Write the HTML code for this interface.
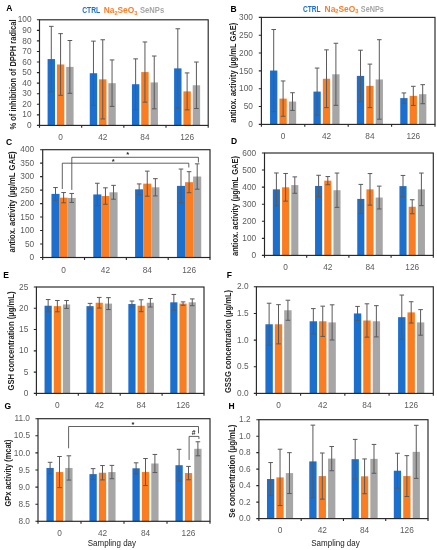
<!DOCTYPE html>
<html><head><meta charset="utf-8"><title>Figure</title>
<style>
html,body{margin:0;padding:0;background:#fff;}
body{width:437px;height:550px;overflow:hidden;}
svg{display:block;}
.t{font-family:'Liberation Sans', Arial, sans-serif;font-size:8.3px;fill:#5c5c5c;}
.yt{font-family:'Liberation Sans', Arial, sans-serif;font-size:8.4px;fill:#262626;font-weight:bold;}
.let{font-family:'Liberation Sans', Arial, sans-serif;font-size:8.5px;fill:#000;font-weight:bold;}
.lg{font-family:'Liberation Sans', Arial, sans-serif;font-size:8.4px;font-weight:bold;}
.xt{font-family:'Liberation Sans', Arial, sans-serif;font-size:8.6px;fill:#1a1a1a;}
.st{font-family:'Liberation Sans', Arial, sans-serif;font-size:7.6px;fill:#222;font-weight:bold;}
</style></head><body>
<svg width="437" height="550" viewBox="0 0 437 550">
<rect width="437" height="550" fill="#fff"/>
<rect x="47.59" y="59.08" width="7.40" height="66.32" fill="#1c6fcd"/>
<rect x="56.89" y="64.47" width="7.40" height="60.93" fill="#fb7d22"/>
<rect x="66.19" y="66.90" width="7.40" height="58.50" fill="#a6a6a6"/>
<rect x="89.76" y="73.23" width="7.40" height="52.17" fill="#1c6fcd"/>
<rect x="99.06" y="79.36" width="7.40" height="46.04" fill="#fb7d22"/>
<rect x="108.36" y="83.16" width="7.40" height="42.24" fill="#a6a6a6"/>
<rect x="131.94" y="84.22" width="7.40" height="41.18" fill="#1c6fcd"/>
<rect x="141.24" y="72.07" width="7.40" height="53.33" fill="#fb7d22"/>
<rect x="150.54" y="82.42" width="7.40" height="42.98" fill="#a6a6a6"/>
<rect x="174.11" y="68.38" width="7.40" height="57.02" fill="#1c6fcd"/>
<rect x="183.41" y="91.40" width="7.40" height="34.00" fill="#fb7d22"/>
<rect x="192.71" y="85.27" width="7.40" height="40.13" fill="#a6a6a6"/>
<path d="M51.29 26.35V91.82M48.99 26.35H53.59M48.99 91.82H53.59" stroke="#5a5a5a" stroke-width="1.0" fill="none"/>
<path d="M60.59 33.63V95.30M58.29 33.63H62.89M58.29 95.30H62.89" stroke="#5a5a5a" stroke-width="1.0" fill="none"/>
<path d="M69.89 40.50V93.30M67.59 40.50H72.19M67.59 93.30H72.19" stroke="#5a5a5a" stroke-width="1.0" fill="none"/>
<path d="M93.46 41.13V105.34M91.16 41.13H95.76M91.16 105.34H95.76" stroke="#5a5a5a" stroke-width="1.0" fill="none"/>
<path d="M102.76 39.76V118.96M100.46 39.76H105.06M100.46 118.96H105.06" stroke="#5a5a5a" stroke-width="1.0" fill="none"/>
<path d="M112.06 59.93V106.39M109.76 59.93H114.36M109.76 106.39H114.36" stroke="#5a5a5a" stroke-width="1.0" fill="none"/>
<path d="M135.64 58.87V109.56M133.34 58.87H137.94M133.34 109.56H137.94" stroke="#5a5a5a" stroke-width="1.0" fill="none"/>
<path d="M144.94 41.98V102.17M142.64 41.98H147.24M142.64 102.17H147.24" stroke="#5a5a5a" stroke-width="1.0" fill="none"/>
<path d="M154.24 56.02V108.82M151.94 56.02H156.54M151.94 108.82H156.54" stroke="#5a5a5a" stroke-width="1.0" fill="none"/>
<path d="M177.81 28.78V107.98M175.51 28.78H180.11M175.51 107.98H180.11" stroke="#5a5a5a" stroke-width="1.0" fill="none"/>
<path d="M187.11 72.92V109.88M184.81 72.92H189.41M184.81 109.88H189.41" stroke="#5a5a5a" stroke-width="1.0" fill="none"/>
<path d="M196.41 62.04V108.50M194.11 62.04H198.71M194.11 108.50H198.71" stroke="#5a5a5a" stroke-width="1.0" fill="none"/>
<rect x="39.50" y="19.80" width="168.70" height="105.60" fill="none" stroke="#262626" stroke-width="1.15"/>
<path d="M36.90 19.80H39.50M36.90 125.40H39.50M36.90 114.84H39.50M36.90 104.28H39.50M36.90 93.72H39.50M36.90 83.16H39.50M36.90 72.60H39.50M36.90 62.04H39.50M36.90 51.48H39.50M36.90 40.92H39.50M36.90 30.36H39.50M36.90 19.80H39.50M39.50 125.40V127.80M81.67 125.40V127.80M123.85 125.40V127.80M166.02 125.40V127.80M208.20 125.40V127.80" stroke="#262626" stroke-width="1.1" fill="none"/>
<text x="31.50" y="128.00" text-anchor="end" class="t">0</text>
<text x="31.50" y="117.44" text-anchor="end" class="t">10</text>
<text x="31.50" y="106.88" text-anchor="end" class="t">20</text>
<text x="31.50" y="96.32" text-anchor="end" class="t">30</text>
<text x="31.50" y="85.76" text-anchor="end" class="t">40</text>
<text x="31.50" y="75.20" text-anchor="end" class="t">50</text>
<text x="31.50" y="64.64" text-anchor="end" class="t">60</text>
<text x="31.50" y="54.08" text-anchor="end" class="t">70</text>
<text x="31.50" y="43.52" text-anchor="end" class="t">80</text>
<text x="31.50" y="32.96" text-anchor="end" class="t">90</text>
<text x="31.50" y="22.40" text-anchor="end" class="t">100</text>
<text x="60.59" y="139.60" text-anchor="middle" class="t">0</text>
<text x="102.76" y="139.60" text-anchor="middle" class="t">42</text>
<text x="144.94" y="139.60" text-anchor="middle" class="t">84</text>
<text x="187.11" y="139.60" text-anchor="middle" class="t">126</text>
<text transform="translate(12.60,74.50) rotate(-90)" x="0" y="3" text-anchor="middle" class="yt" textLength="110" lengthAdjust="spacingAndGlyphs">% of inhibition of DPPH radical</text>
<text x="6.20" y="11.40" class="let">A</text>
<rect x="270.05" y="70.54" width="7.30" height="53.86" fill="#1c6fcd"/>
<rect x="279.45" y="98.61" width="7.30" height="25.79" fill="#fb7d22"/>
<rect x="288.85" y="101.57" width="7.30" height="22.83" fill="#a6a6a6"/>
<rect x="313.45" y="91.59" width="7.30" height="32.81" fill="#1c6fcd"/>
<rect x="322.85" y="78.75" width="7.30" height="45.65" fill="#fb7d22"/>
<rect x="332.25" y="74.29" width="7.30" height="50.11" fill="#a6a6a6"/>
<rect x="356.85" y="75.89" width="7.30" height="48.51" fill="#1c6fcd"/>
<rect x="366.25" y="85.88" width="7.30" height="38.52" fill="#fb7d22"/>
<rect x="375.65" y="79.46" width="7.30" height="44.94" fill="#a6a6a6"/>
<rect x="400.25" y="98.11" width="7.30" height="26.29" fill="#1c6fcd"/>
<rect x="409.65" y="95.87" width="7.30" height="28.53" fill="#fb7d22"/>
<rect x="419.05" y="94.19" width="7.30" height="30.21" fill="#a6a6a6"/>
<path d="M273.70 29.53V111.56M271.40 29.53H276.00M271.40 111.56H276.00" stroke="#5a5a5a" stroke-width="1.0" fill="none"/>
<path d="M283.10 80.96V116.27M280.80 80.96H285.40M280.80 116.27H285.40" stroke="#5a5a5a" stroke-width="1.0" fill="none"/>
<path d="M292.50 92.73V110.42M290.20 92.73H294.80M290.20 110.42H294.80" stroke="#5a5a5a" stroke-width="1.0" fill="none"/>
<path d="M317.10 68.05V115.13M314.80 68.05H319.40M314.80 115.13H319.40" stroke="#5a5a5a" stroke-width="1.0" fill="none"/>
<path d="M326.50 49.86V107.64M324.20 49.86H328.80M324.20 107.64H328.80" stroke="#5a5a5a" stroke-width="1.0" fill="none"/>
<path d="M335.90 43.26V105.32M333.60 43.26H338.20M333.60 105.32H338.20" stroke="#5a5a5a" stroke-width="1.0" fill="none"/>
<path d="M360.50 50.21V101.57M358.20 50.21H362.80M358.20 101.57H362.80" stroke="#5a5a5a" stroke-width="1.0" fill="none"/>
<path d="M369.90 64.12V107.64M367.60 64.12H372.20M367.60 107.64H372.20" stroke="#5a5a5a" stroke-width="1.0" fill="none"/>
<path d="M379.30 39.69V119.23M377.00 39.69H381.60M377.00 119.23H381.60" stroke="#5a5a5a" stroke-width="1.0" fill="none"/>
<path d="M403.90 92.94V103.29M401.60 92.94H406.20M401.60 103.29H406.20" stroke="#5a5a5a" stroke-width="1.0" fill="none"/>
<path d="M413.30 86.31V105.43M411.00 86.31H415.60M411.00 105.43H415.60" stroke="#5a5a5a" stroke-width="1.0" fill="none"/>
<path d="M422.70 84.67V103.71M420.40 84.67H425.00M420.40 103.71H425.00" stroke="#5a5a5a" stroke-width="1.0" fill="none"/>
<rect x="261.40" y="17.40" width="173.60" height="107.00" fill="none" stroke="#262626" stroke-width="1.15"/>
<path d="M258.80 17.40H261.40M258.80 124.40H261.40M258.80 106.57H261.40M258.80 88.73H261.40M258.80 70.90H261.40M258.80 53.07H261.40M258.80 35.23H261.40M258.80 17.40H261.40M261.40 124.40V126.80M304.80 124.40V126.80M348.20 124.40V126.80M391.60 124.40V126.80M435.00 124.40V126.80" stroke="#262626" stroke-width="1.1" fill="none"/>
<text x="252.90" y="127.00" text-anchor="end" class="t">0</text>
<text x="252.90" y="109.17" text-anchor="end" class="t">50</text>
<text x="252.90" y="91.33" text-anchor="end" class="t">100</text>
<text x="252.90" y="73.50" text-anchor="end" class="t">150</text>
<text x="252.90" y="55.67" text-anchor="end" class="t">200</text>
<text x="252.90" y="37.83" text-anchor="end" class="t">250</text>
<text x="252.90" y="20.00" text-anchor="end" class="t">300</text>
<text x="283.10" y="138.60" text-anchor="middle" class="t">0</text>
<text x="326.50" y="138.60" text-anchor="middle" class="t">42</text>
<text x="369.90" y="138.60" text-anchor="middle" class="t">84</text>
<text x="413.30" y="138.60" text-anchor="middle" class="t">126</text>
<text transform="translate(233.30,72.70) rotate(-90)" x="0" y="3" text-anchor="middle" class="yt" textLength="100" lengthAdjust="spacingAndGlyphs">antiox. activity (µg/mL GAE)</text>
<text x="230.50" y="11.50" class="let">B</text>
<rect x="51.46" y="193.90" width="8.10" height="63.60" fill="#1c6fcd"/>
<rect x="59.56" y="197.67" width="8.10" height="59.83" fill="#fb7d22"/>
<rect x="67.66" y="197.94" width="8.10" height="59.56" fill="#a6a6a6"/>
<rect x="93.29" y="194.44" width="8.10" height="63.06" fill="#1c6fcd"/>
<rect x="101.39" y="196.05" width="8.10" height="61.45" fill="#fb7d22"/>
<rect x="109.49" y="192.28" width="8.10" height="65.22" fill="#a6a6a6"/>
<rect x="135.11" y="189.32" width="8.10" height="68.18" fill="#1c6fcd"/>
<rect x="143.21" y="183.66" width="8.10" height="73.84" fill="#fb7d22"/>
<rect x="151.31" y="187.30" width="8.10" height="70.20" fill="#a6a6a6"/>
<rect x="176.94" y="185.89" width="8.10" height="71.61" fill="#1c6fcd"/>
<rect x="185.04" y="182.20" width="8.10" height="75.30" fill="#fb7d22"/>
<rect x="193.14" y="176.52" width="8.10" height="80.98" fill="#a6a6a6"/>
<path d="M55.51 187.56V200.23M53.21 187.56H57.81M53.21 200.23H57.81" stroke="#5a5a5a" stroke-width="1.0" fill="none"/>
<path d="M63.61 192.55V202.79M61.31 192.55H65.91M61.31 202.79H65.91" stroke="#5a5a5a" stroke-width="1.0" fill="none"/>
<path d="M71.71 193.44V202.44M69.41 193.44H74.01M69.41 202.44H74.01" stroke="#5a5a5a" stroke-width="1.0" fill="none"/>
<path d="M97.34 183.25V205.62M95.04 183.25H99.64M95.04 205.62H99.64" stroke="#5a5a5a" stroke-width="1.0" fill="none"/>
<path d="M105.44 187.83V204.27M103.14 187.83H107.74M103.14 204.27H107.74" stroke="#5a5a5a" stroke-width="1.0" fill="none"/>
<path d="M113.54 185.35V199.21M111.24 185.35H115.84M111.24 199.21H115.84" stroke="#5a5a5a" stroke-width="1.0" fill="none"/>
<path d="M139.16 183.93V194.71M136.86 183.93H141.46M136.86 194.71H141.46" stroke="#5a5a5a" stroke-width="1.0" fill="none"/>
<path d="M147.26 171.13V196.19M144.96 171.13H149.56M144.96 196.19H149.56" stroke="#5a5a5a" stroke-width="1.0" fill="none"/>
<path d="M155.36 178.67V195.92M153.06 178.67H157.66M153.06 195.92H157.66" stroke="#5a5a5a" stroke-width="1.0" fill="none"/>
<path d="M180.99 169.05V202.74M178.69 169.05H183.29M178.69 202.74H183.29" stroke="#5a5a5a" stroke-width="1.0" fill="none"/>
<path d="M189.09 171.69V192.71M186.79 171.69H191.39M186.79 192.71H191.39" stroke="#5a5a5a" stroke-width="1.0" fill="none"/>
<path d="M197.19 163.85V189.18M194.89 163.85H199.49M194.89 189.18H199.49" stroke="#5a5a5a" stroke-width="1.0" fill="none"/>
<rect x="42.70" y="149.70" width="167.30" height="107.80" fill="none" stroke="#262626" stroke-width="1.15"/>
<path d="M40.10 149.70H42.70M40.10 257.50H42.70M40.10 244.03H42.70M40.10 230.55H42.70M40.10 217.07H42.70M40.10 203.60H42.70M40.10 190.12H42.70M40.10 176.65H42.70M40.10 163.17H42.70M40.10 149.70H42.70M42.70 257.50V259.90M84.53 257.50V259.90M126.35 257.50V259.90M168.18 257.50V259.90M210.00 257.50V259.90" stroke="#262626" stroke-width="1.1" fill="none"/>
<text x="34.20" y="260.10" text-anchor="end" class="t">0</text>
<text x="34.20" y="246.62" text-anchor="end" class="t">50</text>
<text x="34.20" y="233.15" text-anchor="end" class="t">100</text>
<text x="34.20" y="219.67" text-anchor="end" class="t">150</text>
<text x="34.20" y="206.20" text-anchor="end" class="t">200</text>
<text x="34.20" y="192.72" text-anchor="end" class="t">250</text>
<text x="34.20" y="179.25" text-anchor="end" class="t">300</text>
<text x="34.20" y="165.77" text-anchor="end" class="t">350</text>
<text x="34.20" y="152.30" text-anchor="end" class="t">400</text>
<text x="63.61" y="273.20" text-anchor="middle" class="t">0</text>
<text x="105.44" y="273.20" text-anchor="middle" class="t">42</text>
<text x="147.26" y="273.20" text-anchor="middle" class="t">84</text>
<text x="189.09" y="273.20" text-anchor="middle" class="t">126</text>
<text transform="translate(12.20,202.00) rotate(-90)" x="0" y="3" text-anchor="middle" class="yt" textLength="101" lengthAdjust="spacingAndGlyphs">antiox. activity (µg/mL GAE)</text>
<text x="6.10" y="144.60" class="let">C</text>
<rect x="272.85" y="189.35" width="7.10" height="66.05" fill="#1c6fcd"/>
<rect x="282.05" y="187.30" width="7.10" height="68.10" fill="#fb7d22"/>
<rect x="291.25" y="185.09" width="7.10" height="70.31" fill="#a6a6a6"/>
<rect x="315.05" y="185.94" width="7.10" height="69.46" fill="#1c6fcd"/>
<rect x="324.25" y="180.65" width="7.10" height="74.75" fill="#fb7d22"/>
<rect x="333.45" y="190.21" width="7.10" height="65.19" fill="#a6a6a6"/>
<rect x="357.25" y="198.91" width="7.10" height="56.49" fill="#1c6fcd"/>
<rect x="366.45" y="189.35" width="7.10" height="66.05" fill="#fb7d22"/>
<rect x="375.65" y="197.54" width="7.10" height="57.86" fill="#a6a6a6"/>
<rect x="399.45" y="186.11" width="7.10" height="69.29" fill="#1c6fcd"/>
<rect x="408.65" y="206.76" width="7.10" height="48.64" fill="#fb7d22"/>
<rect x="417.85" y="189.35" width="7.10" height="66.05" fill="#a6a6a6"/>
<path d="M276.40 172.97V205.74M274.10 172.97H278.70M274.10 205.74H278.70" stroke="#5a5a5a" stroke-width="1.0" fill="none"/>
<path d="M285.60 173.48V201.13M283.30 173.48H287.90M283.30 201.13H287.90" stroke="#5a5a5a" stroke-width="1.0" fill="none"/>
<path d="M294.80 176.89V193.28M292.50 176.89H297.10M292.50 193.28H297.10" stroke="#5a5a5a" stroke-width="1.0" fill="none"/>
<path d="M318.60 175.27V196.61M316.30 175.27H320.90M316.30 196.61H320.90" stroke="#5a5a5a" stroke-width="1.0" fill="none"/>
<path d="M327.80 176.55V184.74M325.50 176.55H330.10M325.50 184.74H330.10" stroke="#5a5a5a" stroke-width="1.0" fill="none"/>
<path d="M337.00 173.05V207.36M334.70 173.05H339.30M334.70 207.36H339.30" stroke="#5a5a5a" stroke-width="1.0" fill="none"/>
<path d="M360.80 184.40V213.42M358.50 184.40H363.10M358.50 213.42H363.10" stroke="#5a5a5a" stroke-width="1.0" fill="none"/>
<path d="M370.00 173.57V205.14M367.70 173.57H372.30M367.70 205.14H372.30" stroke="#5a5a5a" stroke-width="1.0" fill="none"/>
<path d="M379.20 186.11V208.98M376.90 186.11H381.50M376.90 208.98H381.50" stroke="#5a5a5a" stroke-width="1.0" fill="none"/>
<path d="M403.00 175.44V196.78M400.70 175.44H405.30M400.70 196.78H405.30" stroke="#5a5a5a" stroke-width="1.0" fill="none"/>
<path d="M412.20 199.76V213.76M409.90 199.76H414.50M409.90 213.76H414.50" stroke="#5a5a5a" stroke-width="1.0" fill="none"/>
<path d="M421.40 173.05V205.65M419.10 173.05H423.70M419.10 205.65H423.70" stroke="#5a5a5a" stroke-width="1.0" fill="none"/>
<rect x="264.50" y="153.00" width="168.80" height="102.40" fill="none" stroke="#262626" stroke-width="1.15"/>
<path d="M261.90 153.00H264.50M261.90 255.40H264.50M261.90 238.33H264.50M261.90 221.27H264.50M261.90 204.20H264.50M261.90 187.13H264.50M261.90 170.07H264.50M261.90 153.00H264.50M264.50 255.40V257.80M306.70 255.40V257.80M348.90 255.40V257.80M391.10 255.40V257.80M433.30 255.40V257.80" stroke="#262626" stroke-width="1.1" fill="none"/>
<text x="256.20" y="258.00" text-anchor="end" class="t">0</text>
<text x="256.20" y="240.93" text-anchor="end" class="t">100</text>
<text x="256.20" y="223.87" text-anchor="end" class="t">200</text>
<text x="256.20" y="206.80" text-anchor="end" class="t">300</text>
<text x="256.20" y="189.73" text-anchor="end" class="t">400</text>
<text x="256.20" y="172.67" text-anchor="end" class="t">500</text>
<text x="256.20" y="155.60" text-anchor="end" class="t">600</text>
<text x="285.60" y="270.20" text-anchor="middle" class="t">0</text>
<text x="327.80" y="270.20" text-anchor="middle" class="t">42</text>
<text x="370.00" y="270.20" text-anchor="middle" class="t">84</text>
<text x="412.20" y="270.20" text-anchor="middle" class="t">126</text>
<text transform="translate(234.60,206.00) rotate(-90)" x="0" y="3" text-anchor="middle" class="yt" textLength="100" lengthAdjust="spacingAndGlyphs">antiox. activity (µg/mL GAE)</text>
<text x="230.90" y="144.40" class="let">D</text>
<rect x="44.55" y="305.73" width="7.20" height="87.67" fill="#1c6fcd"/>
<rect x="53.75" y="306.15" width="7.20" height="87.25" fill="#fb7d22"/>
<rect x="62.95" y="304.45" width="7.20" height="88.95" fill="#a6a6a6"/>
<rect x="86.45" y="306.15" width="7.20" height="87.25" fill="#1c6fcd"/>
<rect x="95.65" y="302.75" width="7.20" height="90.65" fill="#fb7d22"/>
<rect x="104.85" y="303.60" width="7.20" height="89.80" fill="#a6a6a6"/>
<rect x="128.35" y="304.02" width="7.20" height="89.38" fill="#1c6fcd"/>
<rect x="137.55" y="305.73" width="7.20" height="87.67" fill="#fb7d22"/>
<rect x="146.75" y="302.75" width="7.20" height="90.65" fill="#a6a6a6"/>
<rect x="170.25" y="302.32" width="7.20" height="91.08" fill="#1c6fcd"/>
<rect x="179.45" y="303.60" width="7.20" height="89.80" fill="#fb7d22"/>
<rect x="188.65" y="302.32" width="7.20" height="91.08" fill="#a6a6a6"/>
<path d="M48.15 299.56V311.90M45.85 299.56H50.45M45.85 311.90H50.45" stroke="#5a5a5a" stroke-width="1.0" fill="none"/>
<path d="M57.35 300.49V311.81M55.05 300.49H59.65M55.05 311.81H59.65" stroke="#5a5a5a" stroke-width="1.0" fill="none"/>
<path d="M66.55 300.49V308.41M64.25 300.49H68.85M64.25 308.41H68.85" stroke="#5a5a5a" stroke-width="1.0" fill="none"/>
<path d="M90.05 303.39V308.92M87.75 303.39H92.35M87.75 308.92H92.35" stroke="#5a5a5a" stroke-width="1.0" fill="none"/>
<path d="M99.25 297.43V308.07M96.95 297.43H101.55M96.95 308.07H101.55" stroke="#5a5a5a" stroke-width="1.0" fill="none"/>
<path d="M108.45 297.64V309.56M106.15 297.64H110.75M106.15 309.56H110.75" stroke="#5a5a5a" stroke-width="1.0" fill="none"/>
<path d="M131.95 301.04V307.00M129.65 301.04H134.25M129.65 307.00H134.25" stroke="#5a5a5a" stroke-width="1.0" fill="none"/>
<path d="M141.15 299.77V311.68M138.85 299.77H143.45M138.85 311.68H143.45" stroke="#5a5a5a" stroke-width="1.0" fill="none"/>
<path d="M150.35 298.49V307.00M148.05 298.49H152.65M148.05 307.00H152.65" stroke="#5a5a5a" stroke-width="1.0" fill="none"/>
<path d="M173.85 294.45V310.20M171.55 294.45H176.15M171.55 310.20H176.15" stroke="#5a5a5a" stroke-width="1.0" fill="none"/>
<path d="M183.05 301.90V305.30M180.75 301.90H185.35M180.75 305.30H185.35" stroke="#5a5a5a" stroke-width="1.0" fill="none"/>
<path d="M192.25 298.92V305.73M189.95 298.92H194.55M189.95 305.73H194.55" stroke="#5a5a5a" stroke-width="1.0" fill="none"/>
<rect x="36.40" y="287.00" width="167.60" height="106.40" fill="none" stroke="#262626" stroke-width="1.15"/>
<path d="M33.80 287.00H36.40M33.80 393.40H36.40M33.80 372.12H36.40M33.80 350.84H36.40M33.80 329.56H36.40M33.80 308.28H36.40M33.80 287.00H36.40M36.40 393.40V395.80M78.30 393.40V395.80M120.20 393.40V395.80M162.10 393.40V395.80M204.00 393.40V395.80" stroke="#262626" stroke-width="1.1" fill="none"/>
<text x="28.30" y="396.00" text-anchor="end" class="t">0</text>
<text x="28.30" y="374.72" text-anchor="end" class="t">5</text>
<text x="28.30" y="353.44" text-anchor="end" class="t">10</text>
<text x="28.30" y="332.16" text-anchor="end" class="t">15</text>
<text x="28.30" y="310.88" text-anchor="end" class="t">20</text>
<text x="28.30" y="289.60" text-anchor="end" class="t">25</text>
<text x="57.35" y="408.40" text-anchor="middle" class="t">0</text>
<text x="99.25" y="408.40" text-anchor="middle" class="t">42</text>
<text x="141.15" y="408.40" text-anchor="middle" class="t">84</text>
<text x="183.05" y="408.40" text-anchor="middle" class="t">126</text>
<text transform="translate(11.00,341.00) rotate(-90)" x="0" y="3" text-anchor="middle" class="yt" textLength="99" lengthAdjust="spacingAndGlyphs">GSH concentration (µg/mL)</text>
<text x="3.30" y="278.10" class="let">E</text>
<rect x="265.41" y="324.27" width="7.40" height="69.13" fill="#1c6fcd"/>
<rect x="274.81" y="324.27" width="7.40" height="69.13" fill="#fb7d22"/>
<rect x="284.21" y="310.25" width="7.40" height="83.15" fill="#a6a6a6"/>
<rect x="309.64" y="321.29" width="7.40" height="72.11" fill="#1c6fcd"/>
<rect x="319.04" y="321.29" width="7.40" height="72.11" fill="#fb7d22"/>
<rect x="328.44" y="322.40" width="7.40" height="71.00" fill="#a6a6a6"/>
<rect x="353.86" y="313.45" width="7.40" height="79.95" fill="#1c6fcd"/>
<rect x="363.26" y="320.49" width="7.40" height="72.91" fill="#fb7d22"/>
<rect x="372.66" y="321.29" width="7.40" height="72.11" fill="#a6a6a6"/>
<rect x="398.09" y="317.18" width="7.40" height="76.22" fill="#1c6fcd"/>
<rect x="407.49" y="312.38" width="7.40" height="81.02" fill="#fb7d22"/>
<rect x="416.89" y="322.40" width="7.40" height="71.00" fill="#a6a6a6"/>
<path d="M269.11 303.22V345.32M266.81 303.22H271.41M266.81 345.32H271.41" stroke="#5a5a5a" stroke-width="1.0" fill="none"/>
<path d="M278.51 304.66V343.88M276.21 304.66H280.81M276.21 343.88H280.81" stroke="#5a5a5a" stroke-width="1.0" fill="none"/>
<path d="M287.91 300.23V320.27M285.61 300.23H290.21M285.61 320.27H290.21" stroke="#5a5a5a" stroke-width="1.0" fill="none"/>
<path d="M313.34 308.60V333.97M311.04 308.60H315.64M311.04 333.97H315.64" stroke="#5a5a5a" stroke-width="1.0" fill="none"/>
<path d="M322.74 306.15V336.42M320.44 306.15H325.04M320.44 336.42H325.04" stroke="#5a5a5a" stroke-width="1.0" fill="none"/>
<path d="M332.14 304.82V339.99M329.84 304.82H334.44M329.84 339.99H334.44" stroke="#5a5a5a" stroke-width="1.0" fill="none"/>
<path d="M357.56 306.41V320.49M355.26 306.41H359.86M355.26 320.49H359.86" stroke="#5a5a5a" stroke-width="1.0" fill="none"/>
<path d="M366.96 303.80V337.17M364.66 303.80H369.26M364.66 337.17H369.26" stroke="#5a5a5a" stroke-width="1.0" fill="none"/>
<path d="M376.36 305.67V336.90M374.06 305.67H378.66M374.06 336.90H378.66" stroke="#5a5a5a" stroke-width="1.0" fill="none"/>
<path d="M401.79 295.06V339.30M399.49 295.06H404.09M399.49 339.30H404.09" stroke="#5a5a5a" stroke-width="1.0" fill="none"/>
<path d="M411.19 301.72V323.04M408.89 301.72H413.49M408.89 323.04H413.49" stroke="#5a5a5a" stroke-width="1.0" fill="none"/>
<path d="M420.59 309.61V335.20M418.29 309.61H422.89M418.29 335.20H422.89" stroke="#5a5a5a" stroke-width="1.0" fill="none"/>
<rect x="256.40" y="286.80" width="176.90" height="106.60" fill="none" stroke="#262626" stroke-width="1.15"/>
<path d="M253.80 286.80H256.40M253.80 393.40H256.40M253.80 366.75H256.40M253.80 340.10H256.40M253.80 313.45H256.40M253.80 286.80H256.40M256.40 393.40V395.80M300.62 393.40V395.80M344.85 393.40V395.80M389.07 393.40V395.80M433.30 393.40V395.80" stroke="#262626" stroke-width="1.1" fill="none"/>
<text x="248.60" y="396.00" text-anchor="end" class="t">0.0</text>
<text x="248.60" y="369.35" text-anchor="end" class="t">0.5</text>
<text x="248.60" y="342.70" text-anchor="end" class="t">1.0</text>
<text x="248.60" y="316.05" text-anchor="end" class="t">1.5</text>
<text x="248.60" y="289.40" text-anchor="end" class="t">2.0</text>
<text x="278.51" y="408.20" text-anchor="middle" class="t">0</text>
<text x="322.74" y="408.20" text-anchor="middle" class="t">42</text>
<text x="366.96" y="408.20" text-anchor="middle" class="t">84</text>
<text x="411.19" y="408.20" text-anchor="middle" class="t">126</text>
<text transform="translate(228.40,341.50) rotate(-90)" x="0" y="3" text-anchor="middle" class="yt" textLength="103" lengthAdjust="spacingAndGlyphs">GSSG concentration (µg/mL)</text>
<text x="226.80" y="278.10" class="let">F</text>
<rect x="46.45" y="467.95" width="7.30" height="53.35" fill="#1c6fcd"/>
<rect x="55.85" y="472.05" width="7.30" height="49.25" fill="#fb7d22"/>
<rect x="65.25" y="467.95" width="7.30" height="53.35" fill="#a6a6a6"/>
<rect x="89.45" y="474.10" width="7.30" height="47.20" fill="#1c6fcd"/>
<rect x="98.85" y="472.74" width="7.30" height="48.56" fill="#fb7d22"/>
<rect x="108.25" y="472.05" width="7.30" height="49.25" fill="#a6a6a6"/>
<rect x="132.45" y="468.29" width="7.30" height="53.01" fill="#1c6fcd"/>
<rect x="141.85" y="472.05" width="7.30" height="49.25" fill="#fb7d22"/>
<rect x="151.25" y="463.50" width="7.30" height="57.80" fill="#a6a6a6"/>
<rect x="175.45" y="465.21" width="7.30" height="56.09" fill="#1c6fcd"/>
<rect x="184.85" y="473.08" width="7.30" height="48.22" fill="#fb7d22"/>
<rect x="194.25" y="448.80" width="7.30" height="72.50" fill="#a6a6a6"/>
<path d="M50.10 462.31V473.59M47.80 462.31H52.40M47.80 473.59H52.40" stroke="#5a5a5a" stroke-width="1.0" fill="none"/>
<path d="M59.50 456.49V487.61M57.20 456.49H61.80M57.20 487.61H61.80" stroke="#5a5a5a" stroke-width="1.0" fill="none"/>
<path d="M68.90 455.81V480.09M66.60 455.81H71.20M66.60 480.09H71.20" stroke="#5a5a5a" stroke-width="1.0" fill="none"/>
<path d="M93.10 468.63V479.58M90.80 468.63H95.40M90.80 479.58H95.40" stroke="#5a5a5a" stroke-width="1.0" fill="none"/>
<path d="M102.50 465.55V479.92M100.20 465.55H104.80M100.20 479.92H104.80" stroke="#5a5a5a" stroke-width="1.0" fill="none"/>
<path d="M111.90 465.38V478.72M109.60 465.38H114.20M109.60 478.72H114.20" stroke="#5a5a5a" stroke-width="1.0" fill="none"/>
<path d="M136.10 462.82V473.76M133.80 462.82H138.40M133.80 473.76H138.40" stroke="#5a5a5a" stroke-width="1.0" fill="none"/>
<path d="M145.50 458.54V485.56M143.20 458.54H147.80M143.20 485.56H147.80" stroke="#5a5a5a" stroke-width="1.0" fill="none"/>
<path d="M154.90 454.44V472.56M152.60 454.44H157.20M152.60 472.56H157.20" stroke="#5a5a5a" stroke-width="1.0" fill="none"/>
<path d="M179.10 449.31V481.11M176.80 449.31H181.40M176.80 481.11H181.40" stroke="#5a5a5a" stroke-width="1.0" fill="none"/>
<path d="M188.50 466.41V479.75M186.20 466.41H190.80M186.20 479.75H190.80" stroke="#5a5a5a" stroke-width="1.0" fill="none"/>
<path d="M197.90 441.78V455.81M195.60 441.78H200.20M195.60 455.81H200.20" stroke="#5a5a5a" stroke-width="1.0" fill="none"/>
<rect x="38.00" y="418.70" width="172.00" height="102.60" fill="none" stroke="#262626" stroke-width="1.15"/>
<path d="M35.40 418.70H38.00M35.40 521.30H38.00M35.40 504.20H38.00M35.40 487.10H38.00M35.40 470.00H38.00M35.40 452.90H38.00M35.40 435.80H38.00M35.40 418.70H38.00M38.00 521.30V523.70M81.00 521.30V523.70M124.00 521.30V523.70M167.00 521.30V523.70M210.00 521.30V523.70" stroke="#262626" stroke-width="1.1" fill="none"/>
<text x="30.00" y="523.90" text-anchor="end" class="t">8.0</text>
<text x="30.00" y="506.80" text-anchor="end" class="t">8.5</text>
<text x="30.00" y="489.70" text-anchor="end" class="t">9.0</text>
<text x="30.00" y="472.60" text-anchor="end" class="t">9.5</text>
<text x="30.00" y="455.50" text-anchor="end" class="t">10.0</text>
<text x="30.00" y="438.40" text-anchor="end" class="t">10.5</text>
<text x="30.00" y="421.30" text-anchor="end" class="t">11.0</text>
<text x="59.50" y="536.10" text-anchor="middle" class="t">0</text>
<text x="102.50" y="536.10" text-anchor="middle" class="t">42</text>
<text x="145.50" y="536.10" text-anchor="middle" class="t">84</text>
<text x="188.50" y="536.10" text-anchor="middle" class="t">126</text>
<text transform="translate(8.00,473.00) rotate(-90)" x="0" y="3" text-anchor="middle" class="yt" textLength="67" lengthAdjust="spacingAndGlyphs">GPx activity (mcat)</text>
<text x="4.50" y="409.20" class="let">G</text>
<rect x="266.99" y="479.04" width="7.30" height="39.56" fill="#1c6fcd"/>
<rect x="276.39" y="477.39" width="7.30" height="41.21" fill="#fb7d22"/>
<rect x="285.79" y="473.11" width="7.30" height="45.49" fill="#a6a6a6"/>
<rect x="309.26" y="461.40" width="7.30" height="57.20" fill="#1c6fcd"/>
<rect x="318.66" y="476.07" width="7.30" height="42.53" fill="#fb7d22"/>
<rect x="328.06" y="458.60" width="7.30" height="60.00" fill="#a6a6a6"/>
<rect x="351.54" y="459.18" width="7.30" height="59.42" fill="#1c6fcd"/>
<rect x="360.94" y="476.32" width="7.30" height="42.28" fill="#fb7d22"/>
<rect x="370.34" y="458.85" width="7.30" height="59.75" fill="#a6a6a6"/>
<rect x="393.81" y="470.72" width="7.30" height="47.88" fill="#1c6fcd"/>
<rect x="403.21" y="476.07" width="7.30" height="42.53" fill="#fb7d22"/>
<rect x="412.61" y="451.84" width="7.30" height="66.76" fill="#a6a6a6"/>
<path d="M270.64 462.56V495.52M268.34 462.56H272.94M268.34 495.52H272.94" stroke="#5a5a5a" stroke-width="1.0" fill="none"/>
<path d="M280.04 449.21V505.58M277.74 449.21H282.34M277.74 505.58H282.34" stroke="#5a5a5a" stroke-width="1.0" fill="none"/>
<path d="M289.44 452.67V493.55M287.14 452.67H291.74M287.14 493.55H291.74" stroke="#5a5a5a" stroke-width="1.0" fill="none"/>
<path d="M312.91 425.14V497.67M310.61 425.14H315.21M310.61 497.67H315.21" stroke="#5a5a5a" stroke-width="1.0" fill="none"/>
<path d="M322.31 453.00V499.15M320.01 453.00H324.61M320.01 499.15H324.61" stroke="#5a5a5a" stroke-width="1.0" fill="none"/>
<path d="M331.71 446.49V470.72M329.41 446.49H334.01M329.41 470.72H334.01" stroke="#5a5a5a" stroke-width="1.0" fill="none"/>
<path d="M355.19 439.40V478.96M352.89 439.40H357.49M352.89 478.96H357.49" stroke="#5a5a5a" stroke-width="1.0" fill="none"/>
<path d="M364.59 458.93V493.71M362.29 458.93H366.89M362.29 493.71H366.89" stroke="#5a5a5a" stroke-width="1.0" fill="none"/>
<path d="M373.99 444.43V473.27M371.69 444.43H376.29M371.69 473.27H376.29" stroke="#5a5a5a" stroke-width="1.0" fill="none"/>
<path d="M397.46 453.24V488.19M395.16 453.24H399.76M395.16 488.19H399.76" stroke="#5a5a5a" stroke-width="1.0" fill="none"/>
<path d="M406.86 455.63V496.51M404.56 455.63H409.16M404.56 496.51H409.16" stroke="#5a5a5a" stroke-width="1.0" fill="none"/>
<path d="M416.26 425.30V478.38M413.96 425.30H418.56M413.96 478.38H418.56" stroke="#5a5a5a" stroke-width="1.0" fill="none"/>
<rect x="258.90" y="419.70" width="169.10" height="98.90" fill="none" stroke="#262626" stroke-width="1.15"/>
<path d="M256.30 419.70H258.90M256.30 518.60H258.90M256.30 502.12H258.90M256.30 485.63H258.90M256.30 469.15H258.90M256.30 452.67H258.90M256.30 436.18H258.90M256.30 419.70H258.90M258.90 518.60V521.00M301.17 518.60V521.00M343.45 518.60V521.00M385.73 518.60V521.00M428.00 518.60V521.00" stroke="#262626" stroke-width="1.1" fill="none"/>
<text x="250.60" y="521.20" text-anchor="end" class="t">0.0</text>
<text x="250.60" y="504.72" text-anchor="end" class="t">0.2</text>
<text x="250.60" y="488.23" text-anchor="end" class="t">0.4</text>
<text x="250.60" y="471.75" text-anchor="end" class="t">0.6</text>
<text x="250.60" y="455.27" text-anchor="end" class="t">0.8</text>
<text x="250.60" y="438.78" text-anchor="end" class="t">1.0</text>
<text x="250.60" y="422.30" text-anchor="end" class="t">1.2</text>
<text x="280.04" y="533.20" text-anchor="middle" class="t">0</text>
<text x="322.31" y="533.20" text-anchor="middle" class="t">42</text>
<text x="364.59" y="533.20" text-anchor="middle" class="t">84</text>
<text x="406.86" y="533.20" text-anchor="middle" class="t">126</text>
<text transform="translate(232.30,471.20) rotate(-90)" x="0" y="3" text-anchor="middle" class="yt" textLength="93" lengthAdjust="spacingAndGlyphs">Se concentration (µg/mL)</text>
<text x="228.50" y="409.20" class="let">H</text>
<text x="82.2" y="13.4" class="lg" fill="#1c6fcd" textLength="18.0" lengthAdjust="spacingAndGlyphs">CTRL</text>
<text x="103.7" y="13.4" class="lg" fill="#fb7d22">Na<tspan dy="1.6" font-size="5.6px">2</tspan><tspan dy="-1.6">SeO</tspan><tspan dy="1.6" font-size="5.6px">3</tspan></text>
<text x="140.0" y="13.4" class="lg" fill="#a6a6a6" textLength="24.2" lengthAdjust="spacingAndGlyphs">SeNPs</text>
<text x="303.0" y="11.6" class="lg" fill="#1c6fcd" textLength="17.6" lengthAdjust="spacingAndGlyphs">CTRL</text>
<text x="324.6" y="11.6" class="lg" fill="#fb7d22">Na<tspan dy="1.6" font-size="5.6px">2</tspan><tspan dy="-1.6">SeO</tspan><tspan dy="1.6" font-size="5.6px">3</tspan></text>
<text x="360.8" y="11.6" class="lg" fill="#a6a6a6" textLength="23.0" lengthAdjust="spacingAndGlyphs">SeNPs</text>
<text x="111.9" y="545.5" text-anchor="middle" class="xt" textLength="48.3" lengthAdjust="spacingAndGlyphs">Sampling day</text>
<text x="335.5" y="545.5" text-anchor="middle" class="xt" textLength="48.4" lengthAdjust="spacingAndGlyphs">Sampling day</text>
<path d="M71.8 189.9V157.3H198.4V162.5M62.3 189V163.2H188.8V167.5" stroke="#3a3a3a" stroke-width="0.8" fill="none"/>
<text x="127.8" y="156.8" text-anchor="middle" class="st">*</text>
<text x="113.2" y="164.3" text-anchor="middle" class="st">*</text>
<path d="M68.6 448.3V426.5H198.5V433.4M189.1 459.9V436.4H198.9V439" stroke="#3a3a3a" stroke-width="0.8" fill="none"/>
<text x="133.0" y="427.0" text-anchor="middle" class="st">*</text>
<text x="193.7" y="435.1" text-anchor="middle" class="st" style="font-size:6.8px">#</text>
</svg></body></html>
